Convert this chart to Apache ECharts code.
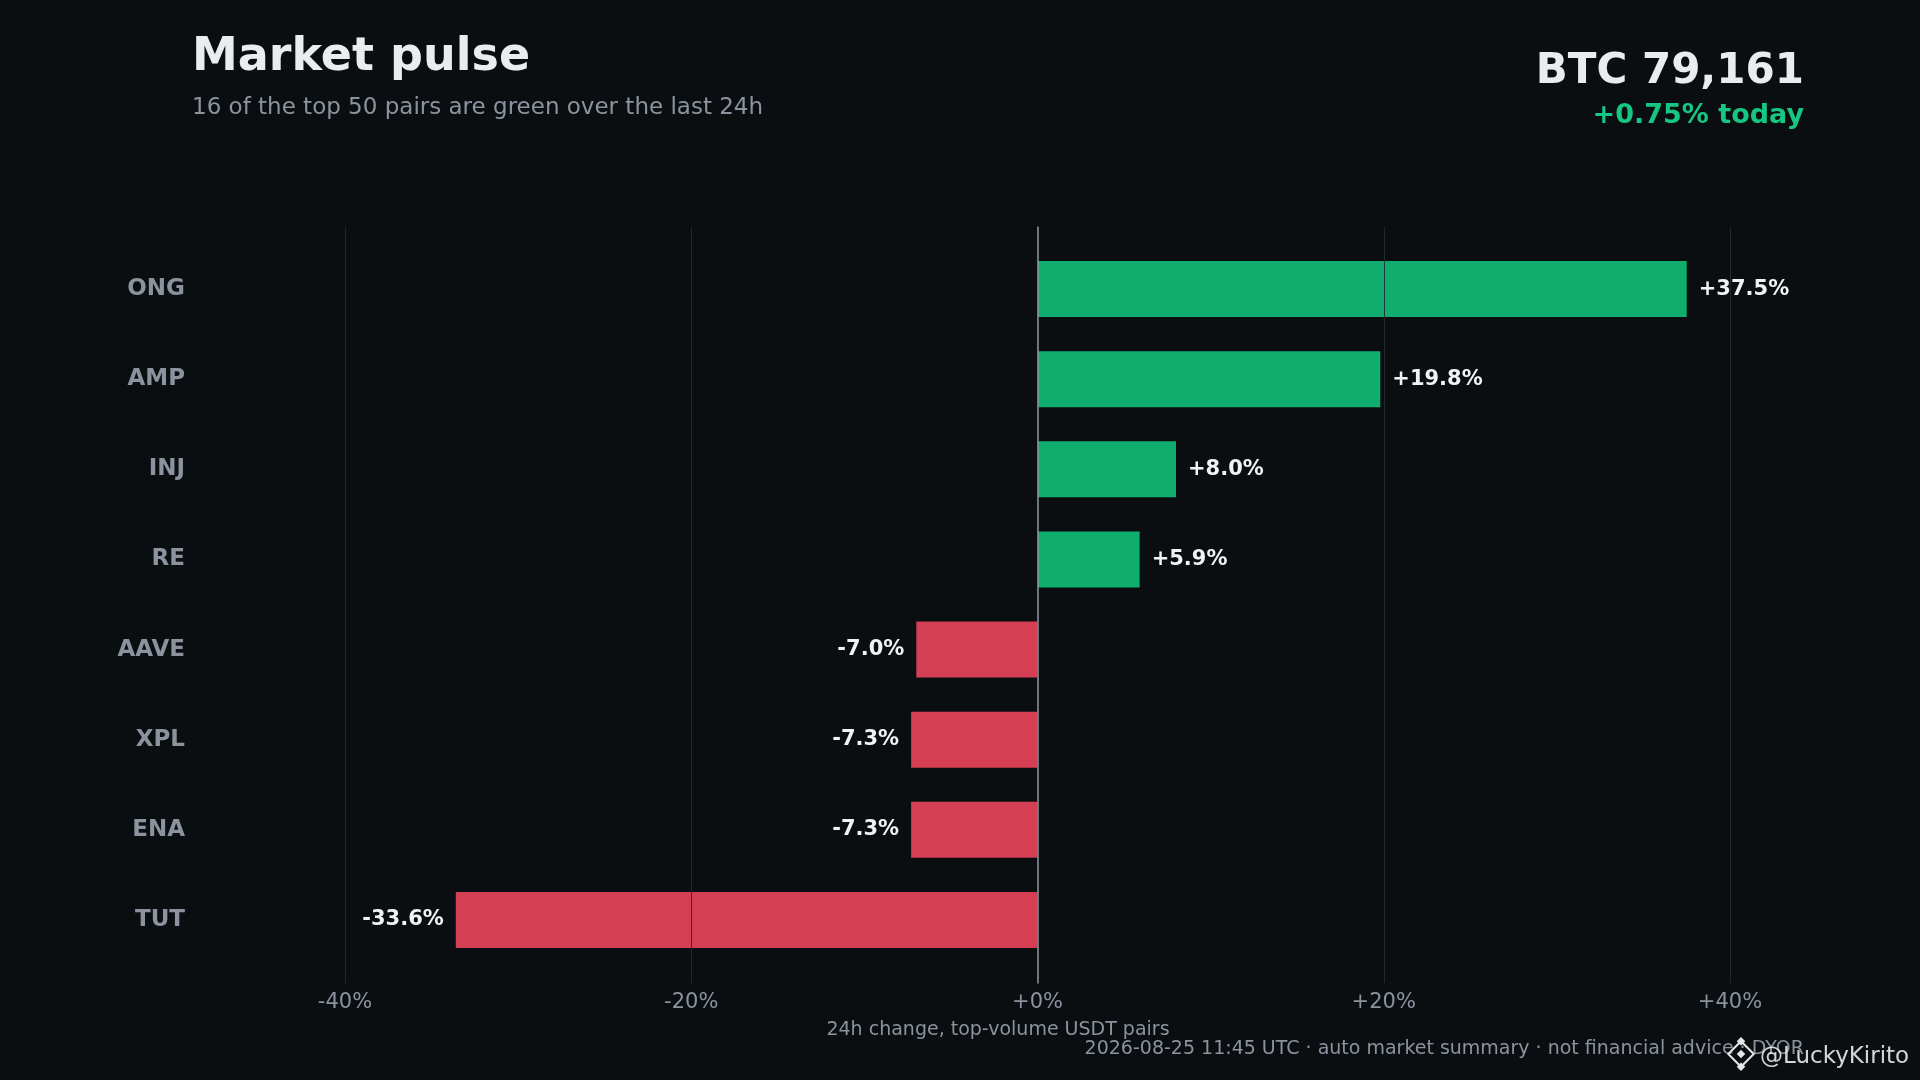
<!DOCTYPE html>
<html>
<head>
<meta charset="utf-8">
<title>Market pulse</title>
<script src="https://cdn.jsdelivr.net/npm/echarts@6/dist/echarts.min.js"></script>
<style>
    html, body { margin: 0; padding: 0; background: #0b0e11; }
    #chart { width: 1920px; height: 1080px; }
</style>
</head>
<body>
<div id="chart"></div>
<script>
// data
var coins = ['ONG', 'AMP', 'INJ', 'RE', 'AAVE', 'XPL', 'ENA', 'TUT'];
var changes = [37.5, 19.8, 8.0, 5.9, -7.0, -7.3, -7.3, -33.6];
var axisMin = -40, axisMax = 40, axisStep = 20;

var titleText = 'Market pulse';
var subText = '16 of the top 50 pairs are green over the last 24h';
var btcText = 'BTC 79,161';
var btcChange = '+0.75% today';
var axisTitle = '24h change, top-volume USDT pairs';
var footText = '2026-08-25 11:45 UTC \u00b7 auto market summary \u00b7 not financial advice \u00b7 DYOR';
var markText = '@LuckyKirito';

var GREEN = '#0fae6f', RED = '#d43f53', MUTED = '#8b949e';
var FONT = '"DejaVu Sans", sans-serif';

function pct(v) {
    return (v > 0 ? '+' : '') + v.toFixed(1) + '%';
}

var barData = [];
changes.forEach(function (v) {
    barData.push({
        value: v,
        itemStyle: { color: v >= 0 ? GREEN : RED },
        label: { position: v >= 0 ? 'right' : 'left' }
    });
});

var chart = echarts.init(document.getElementById('chart'), null, { renderer: 'canvas' });

var option = {
    backgroundColor: '#0b0e11',
    animation: false,
    textStyle: { fontFamily: FONT },
    // grid 0 holds the bars, grid 1 is a taller frame for the split lines
    grid: [
        { left: 345, right: 190, top: 244, bottom: 115 },
        { left: 345, right: 190, top: 227, bottom: 97 }
    ],
    xAxis: [{
        type: 'value', gridIndex: 0,
        min: axisMin, max: axisMax, interval: axisStep,
        axisLine: { show: false }, axisTick: { show: false },
        axisLabel: { show: false }, splitLine: { show: false }
    }, {
        type: 'value', gridIndex: 1, z: 3,
        min: axisMin, max: axisMax, interval: axisStep,
        axisLine: { show: false }, axisTick: { show: false },
        axisLabel: {
            color: MUTED, fontSize: 21, fontFamily: FONT, margin: 9,
            formatter: function (v) { return (v >= 0 ? '+' : '') + v + '%'; }
        },
        splitLine: { show: true, lineStyle: { color: 'rgba(38,43,50,0.9)', width: 1 } }
    }],
    yAxis: [{
        type: 'category', gridIndex: 0, inverse: true,
        data: coins,
        axisLine: { show: false }, axisTick: { show: false },
        axisLabel: {
            color: MUTED, fontSize: 23, fontWeight: 'bold', fontFamily: FONT,
            margin: 160, padding: [7, 0, 0, 0]
        }
    }, {
        type: 'value', gridIndex: 1, z: 4,
        min: 0, max: 1,
        axisLine: { show: true, onZero: true, lineStyle: { color: '#8b949e', width: 1.5 } },
        axisTick: { show: false }, axisLabel: { show: false }, splitLine: { show: false }
    }],
    series: [{
        type: 'bar',
        xAxisIndex: 0, yAxisIndex: 0,
        barWidth: 56,
        z: 2,
        data: barData,
        label: {
            show: true,
            distance: 12,
            color: '#f0f2f5',
            fontSize: 21,
            fontWeight: 'bold',
            fontFamily: FONT,
            formatter: function (p) { return pct(p.value); }
        }
    }],
    graphic: [
        { type: 'text', x: 192, y: 58, style: { text: titleText, fill: '#eaecef', font: 'bold 46px ' + FONT, verticalAlign: 'middle' } },
        { type: 'text', x: 192, y: 108, style: { text: subText, fill: MUTED, font: '23px ' + FONT, verticalAlign: 'middle' } },
        { type: 'text', x: 1804, y: 72, style: { text: btcText, fill: '#eaecef', font: 'bold 42px ' + FONT, align: 'right', verticalAlign: 'middle' } },
        { type: 'text', x: 1804, y: 116, style: { text: btcChange, fill: '#16c784', font: 'bold 27px ' + FONT, align: 'right', verticalAlign: 'middle' } },
        { type: 'text', x: 998, y: 1030, style: { text: axisTitle, fill: MUTED, font: '19px ' + FONT, align: 'center', verticalAlign: 'middle' } },
        { type: 'text', x: 1804, y: 1049, style: { text: footText, fill: MUTED, font: '19px ' + FONT, align: 'right', verticalAlign: 'middle' } },
        // watermark
        {
            type: 'group', x: 1741, y: 1054, rotation: Math.PI / 4,
            children: [
                { type: 'rect', shape: { x: -3, y: -3, width: 6, height: 6 }, style: { fill: '#e6e6e6' } },
                { type: 'rect', shape: { x: -9, y: -9, width: 18, height: 18 }, style: { fill: 'none', stroke: '#e6e6e6', lineWidth: 2 } },
                { type: 'rect', shape: { x: -12, y: 6, width: 6, height: 6 }, style: { fill: '#e6e6e6' } },
                { type: 'rect', shape: { x: 6, y: -12, width: 6, height: 6 }, style: { fill: '#e6e6e6' } }
            ]
        },
        { type: 'text', x: 1760, y: 1057, style: { text: markText, fill: 'rgba(235,235,235,0.9)', font: '23px ' + FONT, verticalAlign: 'middle' } }
    ]
};

chart.setOption(option);
</script>
</body>
</html>
